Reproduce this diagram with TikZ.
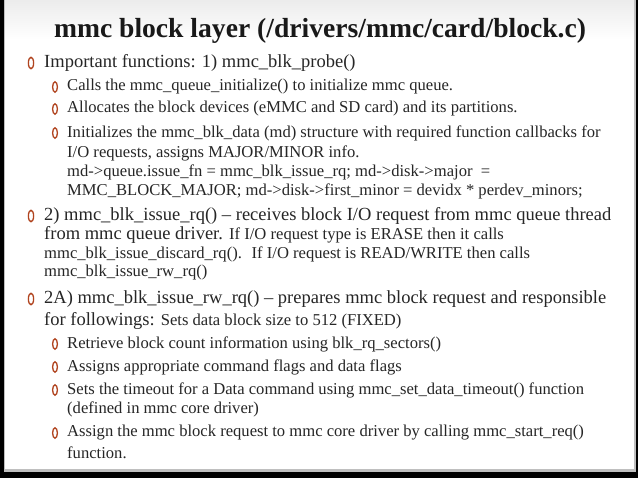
\documentclass[tikz,border=0pt]{standalone}
\usepackage{fontspec}
\setmainfont{Liberation Serif}
\definecolor{bul}{HTML}{B0431E}
\definecolor{txt}{HTML}{262626}
\begin{document}
\begin{tikzpicture}[x=1pt,y=-1pt,
  ln/.style={anchor=west,inner sep=0pt,text=txt},
  la/.style={ln,font=\fontsize{18.5}{20}\selectfont},
  lb/.style={ln,font=\fontsize{16.6}{18}\selectfont},
  bu/.style={draw=bul,line width=1.3pt}]
\useasboundingbox (0,0) rectangle (638,478);
\fill[black] (0,0) rectangle (638,478);
\fill[gray!50] (4,0) rectangle (636,472);
\shade[top color=gray!15,bottom color=white] (5,0) rectangle (634,40);
\fill[white] (5,40) rectangle (634,469);
\node[anchor=center,text=black!90,font=\fontsize{27.6}{30}\selectfont\bfseries] (t) at (320,31) {mmc block layer (/drivers/mmc/card/block.c)};
\foreach \y in {63,216,299}{\draw[bu] (31,\y) ellipse (2.6 and 5.8);}
\foreach \y in {87,109,133,344,367,390,433}{\draw[bu] (55,\y) ellipse (2.4 and 5.2);}
\node[la] (l1) at (44,63) {Important functions: 1) mmc\_blk\_probe()};
\node[lb] (l2) at (67,87) {Calls the mmc\_queue\_initialize() to initialize mmc queue.};
\node[lb] (l3) at (67,109) {Allocates the block devices (eMMC and SD card) and its partitions.};
\node[lb] (l4) at (67,133) {Initializes the mmc\_blk\_data (md) structure with required function callbacks for};
\node[lb] (l5) at (67,153) {I/O requests, assigns MAJOR/MINOR info.};
\node[lb] (l6) at (67,172) {md->queue.issue\_fn = mmc\_blk\_issue\_rq; md->disk->major \ =};
\node[lb] (l7) at (67,191) {MMC\_BLOCK\_MAJOR; md->disk->first\_minor = devidx * perdev\_minors;};
\node[la] (l8) at (44,216) {2) mmc\_blk\_issue\_rq() – receives block I/O request from mmc queue thread};
\node[la] (l9) at (44,235) {from mmc queue driver. {\fontsize{16.6}{18}\selectfont If I/O request type is ERASE then it calls}};
\node[lb] (l10) at (44,254) {mmc\_blk\_issue\_discard\_rq(). \ If I/O request is READ/WRITE then calls};
\node[lb] (l11) at (44,273) {mmc\_blk\_issue\_rw\_rq()};
\node[la] (l12) at (44,299) {2A) mmc\_blk\_issue\_rw\_rq() – prepares mmc block request and responsible};
\node[la] (l13) at (44,321) {for followings: {\fontsize{16.6}{18}\selectfont Sets data block size to 512 (FIXED)}};
\node[lb] (l14) at (67,344) {Retrieve block count information using blk\_rq\_sectors()};
\node[lb] (l15) at (67,367) {Assigns appropriate command flags and data flags};
\node[lb] (l16) at (67,390) {Sets the timeout for a Data command using mmc\_set\_data\_timeout() function};
\node[lb] (l17) at (67,409) {(defined in mmc core driver)};
\node[lb] (l18) at (67,433) {Assign the mmc block request to mmc core driver by calling mmc\_start\_req()};
\node[lb] (l19) at (67,453) {function.};
\end{tikzpicture}
\end{document}
